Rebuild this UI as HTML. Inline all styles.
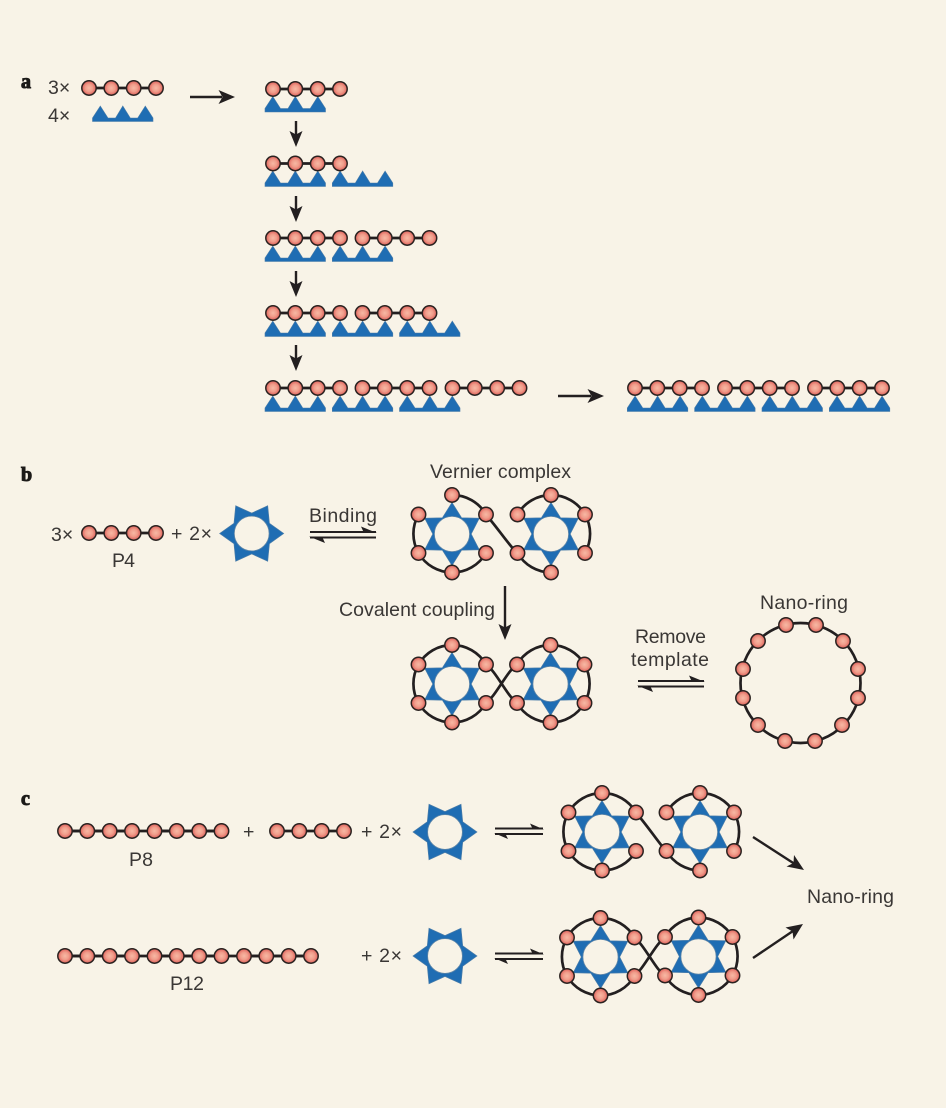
<!DOCTYPE html>
<html><head><meta charset="utf-8"><style>
html,body{margin:0;padding:0;background:#f8f3e7}
svg{display:block}
text{font-family:"Liberation Sans",sans-serif;font-size:19.5px;fill:#3a3735}
.h{font-family:"Liberation Serif",serif;font-weight:bold;font-size:20px;fill:#1c1a18;stroke:#1c1a18;stroke-width:1}
.l{fill:none;stroke:#231f20;stroke-width:2.7}
.a{fill:none;stroke:#231f20;stroke-width:2.4}
.d{fill:none;stroke:#231f20;stroke-width:2.1}
</style></head><body>
<svg xmlns="http://www.w3.org/2000/svg" width="946" height="1108" viewBox="0 0 946 1108">
<defs>
<radialGradient id="g" cx="50%" cy="50%" r="52%"><stop offset="0" stop-color="#f7b8a4"/><stop offset=".5" stop-color="#f09c8a"/><stop offset="1" stop-color="#dc5a56"/></radialGradient>
<g id="b"><circle r="7.2" fill="url(#g)" stroke="#2a2220" stroke-width="1.5"/></g>
<g id="c4"><path class="l" d="M0 0H67"/><use href="#b"/><use href="#b" x="22.3"/><use href="#b" x="44.7"/><use href="#b" x="67"/></g>
<path id="t" fill="#1f6db3" stroke="#4a7ca8" stroke-width=".6" d="M0 15.500V12L7.800 0 15.500 12H23L30.300 0 37.800 12H45.200L52.800 0 60.500 12V15.500Z"/>
<g id="sv"><path fill="#1f6db3" stroke="#4a7ca8" stroke-width=".7" d="M0-31.500 9.600-16.200 27.300-15.750 19.200 0 27.300 15.750 9.600 16.200 0 31.500-9.600 16.200-27.300 15.750-19.200 0-27.300-15.750-9.600-16.200Z"/><circle r="17.600" fill="#f8f3e7" stroke="#5f86a8" stroke-width=".8"/></g>
<g id="sh"><path fill="#1f6db3" stroke="#4a7ca8" stroke-width=".7" d="M32 0 17.700 10.200 16 27.700 0 20.400-16 27.700-17.700 10.200-32 0-17.700-10.200-16-27.700 0-20.400 16-27.700 17.700-10.200Z"/><circle r="17.400" fill="#f8f3e7" stroke="#5f86a8" stroke-width=".8"/></g>
<g id="core"><use href="#sv"/><use href="#b" y="-39"/><use href="#b" x="34" y="-19.500"/><use href="#b" x="34" y="19"/><use href="#b" y="38.500"/><use href="#b" x="-33.500" y="19"/><use href="#b" x="-33.500" y="-19.500"/></g>
<path id="aTR" class="l" d="M0-39A39 39 0 0 1 34-19.500"/>
<path id="aR" class="l" d="M34-19.500A39 39 0 0 1 34 19"/>
<path id="aBR" class="l" d="M34 19A39 39 0 0 1 0 38.500"/>
<path id="aBL" class="l" d="M0 38.500A39 39 0 0 1-33.500 19"/>
<path id="aL" class="l" d="M-33.500 19A39 39 0 0 1-33.500-19.500"/>
<path id="aTL" class="l" d="M-33.500-19.500A39 39 0 0 1 0-39"/>
<g id="av"><path fill="#231f20" d="M0 0-6.500-16 0-12.500 6.500-16Z"/></g>
<g id="dbl"><path class="d" d="M0 0H66M0 5.500H66"/><path fill="#231f20" d="M67 1 51-5.500 54 1Z M-1 4.500 15 11 12 4.500Z"/></g>
<g id="dbs"><path class="d" d="M0 0H48M0 5.500H48"/><path fill="#231f20" d="M49 1 35-5 38 1Z M-1 4.500 13 10.500 10 4.500Z"/></g>
</defs>
<rect width="946" height="1108" fill="#f8f3e7"/>

<!-- a -->
<text class="h" x="21" y="88">a</text>
<text x="48" y="94">3×</text><text x="48" y="122">4×</text>
<use href="#c4" x="89" y="88"/>
<use href="#t" x="92.500" y="106"/>
<path class="a" d="M190 97H222"/><path fill="#231f20" d="M235 97 218.500 90 222.500 97 218.500 104Z"/>

<use href="#t" x="265" y="96.500"/><use href="#c4" x="273" y="89"/>
<path class="a" d="M296 121V136"/><use href="#av" x="296" y="147"/>
<use href="#t" x="265" y="171"/><use href="#t" x="332.300" y="171"/><use href="#c4" x="273" y="163.500"/>
<path class="a" d="M296 196V211"/><use href="#av" x="296" y="222"/>
<use href="#t" x="265" y="246"/><use href="#t" x="332.300" y="246"/><use href="#c4" x="273" y="238"/><use href="#c4" x="362.500" y="238"/>
<path class="a" d="M296 271V286"/><use href="#av" x="296" y="297"/>
<use href="#t" x="265" y="321"/><use href="#t" x="332.300" y="321"/><use href="#t" x="399.500" y="321"/><use href="#c4" x="273" y="313"/><use href="#c4" x="362.500" y="313"/>
<path class="a" d="M296 345V360"/><use href="#av" x="296" y="371"/>
<use href="#t" x="265" y="396"/><use href="#t" x="332.300" y="396"/><use href="#t" x="399.500" y="396"/><use href="#c4" x="273" y="388"/><use href="#c4" x="362.500" y="388"/><use href="#c4" x="452.500" y="388"/>
<path class="a" d="M558 396H591"/><path fill="#231f20" d="M604 396 587.500 389 591.500 396 587.500 403Z"/>
<use href="#t" x="627.300" y="396"/><use href="#t" x="694.600" y="396"/><use href="#t" x="762" y="396"/><use href="#t" x="829.300" y="396"/>
<use href="#c4" x="635" y="388"/><use href="#c4" x="725" y="388"/><use href="#c4" x="815" y="388"/>

<!-- b -->
<text class="h" x="21" y="481">b</text>
<text x="51" y="541">3×</text><use href="#c4" x="89" y="533"/>
<text x="171" y="540" textLength="41">+ 2×</text>
<use href="#sh" x="251.700" y="533.500"/>
<text x="309" y="522" textLength="68">Binding</text>
<use href="#dbl" x="310" y="532"/>
<text x="112" y="567" textLength="23">P4</text>
<text x="430" y="478" textLength="141">Vernier complex</text>

<g transform="translate(452 534)"><use href="#aTR"/><use href="#aBR"/><use href="#aBL"/><use href="#aL"/></g>
<g transform="translate(551 534)"><use href="#aBL"/><use href="#aR"/><use href="#aTR"/><use href="#aTL"/></g>
<path class="l" d="M486 515C494 523 508 544 517 553"/>
<use href="#core" x="452" y="534"/><use href="#core" x="551" y="534"/>

<path class="a" d="M505 586V628"/><path fill="#231f20" d="M505 640 498.500 624 505 627.500 511.500 624Z"/>
<text x="339" y="616" textLength="156">Covalent coupling</text>

<g transform="translate(452 684)"><use href="#aTR"/><use href="#aBR"/><use href="#aBL"/><use href="#aL"/><use href="#aTL"/></g>
<g transform="translate(550.500 684)"><use href="#aBL"/><use href="#aBR"/><use href="#aR"/><use href="#aTR"/><use href="#aTL"/></g>
<path class="l" d="M486 664.500C496 671 507 696 517 703"/><path class="l" d="M486 703C496 696 507 671 517 664.500"/>
<use href="#core" x="452" y="684"/><use href="#core" x="550.500" y="684"/>

<text x="635" y="643" textLength="71">Remove</text><text x="631" y="666" textLength="78">template</text>
<use href="#dbl" x="638" y="681"/>
<text x="760" y="609" textLength="88">Nano-ring</text>
<circle class="l" cx="800.500" cy="683" r="60"/>
<use href="#b" x="786" y="625"/><use href="#b" x="816" y="625"/><use href="#b" x="843" y="641"/><use href="#b" x="858" y="669"/><use href="#b" x="858" y="698"/><use href="#b" x="842" y="725"/><use href="#b" x="815" y="741"/><use href="#b" x="785" y="741"/><use href="#b" x="758" y="725"/><use href="#b" x="743" y="698"/><use href="#b" x="743" y="669"/><use href="#b" x="758" y="641"/>

<!-- c -->
<text class="h" x="21" y="805">c</text>
<path class="l" d="M65 831H222"/><use href="#c4" x="65" y="831"/><use href="#c4" x="154.500" y="831"/>
<text x="243" y="838">+</text>
<use href="#c4" x="277" y="831"/>
<text x="361" y="838" textLength="41">+ 2×</text>
<use href="#sh" x="445" y="832"/>
<text x="129" y="866" textLength="24">P8</text>
<use href="#dbs" x="495" y="828.500"/>

<g transform="translate(602 832)"><use href="#aTR"/><use href="#aBR"/><use href="#aBL"/><use href="#aL"/><use href="#aTL"/></g>
<g transform="translate(700 832)"><use href="#aBL"/><use href="#aR"/><use href="#aTR"/><use href="#aTL"/></g>
<path class="l" d="M636 813C644 821 658 842 666 851"/>
<use href="#core" x="602" y="832"/><use href="#core" x="700" y="832"/>

<path class="l" d="M65 956H311"/><use href="#c4" x="65" y="956"/><use href="#c4" x="154.500" y="956"/><use href="#c4" x="244" y="956"/>
<text x="170" y="990" textLength="34">P12</text>
<text x="361" y="962" textLength="41">+ 2×</text>
<use href="#sh" x="445" y="956"/>
<use href="#dbs" x="495" y="953.500"/>

<g transform="translate(600.500 957)"><use href="#aTR"/><use href="#aBR"/><use href="#aBL"/><use href="#aL"/><use href="#aTL"/></g>
<g transform="translate(698.500 956.500)"><use href="#aBL"/><use href="#aBR"/><use href="#aR"/><use href="#aTR"/><use href="#aTL"/></g>
<path class="l" d="M634 937.500C644 944 655 969 665 976"/><path class="l" d="M634 976C644 969 655 944 665 937.500"/>
<use href="#core" x="600.500" y="957"/><use href="#core" x="698.500" y="956.500"/>

<path class="a" d="M753 837 794 863.500"/><path fill="#231f20" d="M804 870 786.500 866.500 793.500 863 794 855Z"/>
<path class="a" d="M753 958 793 931"/><path fill="#231f20" d="M803 924 785.500 927.500 792.500 931.500 793.500 939.500Z"/>
<text x="807" y="903" textLength="87">Nano-ring</text>
</svg>
</body></html>
